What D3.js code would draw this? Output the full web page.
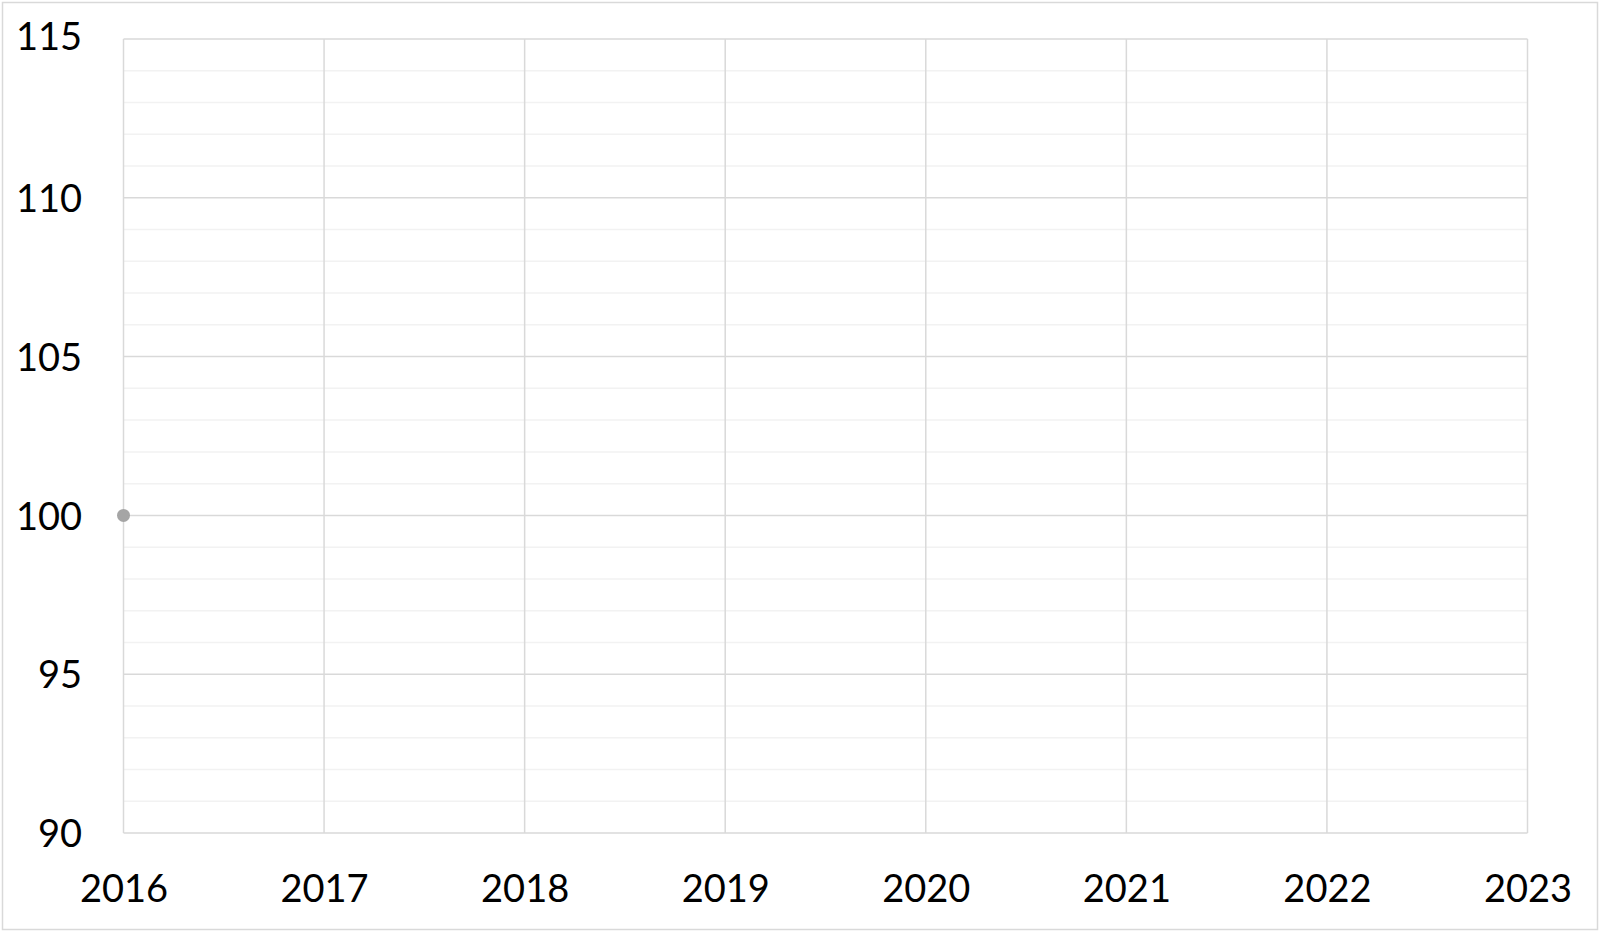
<!DOCTYPE html>
<html><head><meta charset="utf-8">
<script src="https://cdn.jsdelivr.net/npm/d3@7"></script>
<style>html,body{margin:0;padding:0;background:#fff;} svg{display:block;}</style>
</head><body>
<svg id="chart" width="1600" height="934"></svg>
<script>
const years = [2016, 2017, 2018, 2019, 2020, 2021, 2022, 2023];
const seriesValues = [100, null, null, null, null, null, null, null];
const yMajorTicks = [90, 95, 100, 105, 110, 115];
const yMinorTicks = d3.range(90, 116, 1);

const svg = d3.select("#chart");
const m = {left: 123.5, right: 1527.5, top: 39, bottom: 833};
const font = "Lato, 'Open Sans', sans-serif";

svg.append("rect").attr("x", 2.5).attr("y", 2.5).attr("width", 1595).attr("height", 927)
  .attr("fill", "#fff").attr("stroke", "#d9d9d9").attr("stroke-width", 1.5);

const x = d3.scaleLinear().domain([years[0], years[years.length-1]]).range([m.left, m.right]);
const y = d3.scaleLinear().domain([90, 115]).range([m.bottom, m.top]);

// minor gridlines
svg.append("g").selectAll("line").data(yMinorTicks.filter(v => v % 5 !== 0)).join("line")
  .attr("x1", m.left).attr("x2", m.right).attr("y1", d => y(d)).attr("y2", d => y(d))
  .attr("stroke", "#f2f2f2").attr("stroke-width", 1.5);

// major horizontal gridlines
svg.append("g").selectAll("line").data(yMajorTicks).join("line")
  .attr("x1", m.left).attr("x2", m.right).attr("y1", d => y(d)).attr("y2", d => y(d))
  .attr("stroke", "#d9d9d9").attr("stroke-width", 1.5);

// vertical gridlines
svg.append("g").selectAll("line").data(years).join("line")
  .attr("x1", d => x(d)).attr("x2", d => x(d)).attr("y1", m.top).attr("y2", m.bottom)
  .attr("stroke", "#d9d9d9").attr("stroke-width", 1.5);

// y axis labels
const yAxis = d3.axisLeft(y).tickValues(yMajorTicks).tickSize(0).tickPadding(0).tickFormat(d3.format("d"));
const gy = svg.append("g").attr("transform", `translate(82,0)`).call(yAxis);
gy.select(".domain").remove();
gy.selectAll("text").attr("font-family", font).attr("font-size", 38).attr("fill", "#000")
  .attr("dy", d => d === 115 ? "0.28em" : "0.36em");

// x axis labels
const xAxis = d3.axisBottom(x).tickValues(years).tickSize(0).tickPadding(0).tickFormat(d3.format("d"));
const gx = svg.append("g").attr("transform", `translate(0,875)`).call(xAxis);
gx.select(".domain").remove();
gx.selectAll("text").attr("font-family", font).attr("font-size", 38).attr("fill", "#000")
  .attr("dy", "0.72em");

// series
const line = d3.line().defined(d => d.v != null).x(d => x(d.yr)).y(d => y(d.v));
const seriesData = years.map((yr, i) => ({yr, v: seriesValues[i]}));
svg.append("path").datum(seriesData)
  .attr("d", line).attr("fill", "none").attr("stroke", "#a5a5a5").attr("stroke-width", 3);
svg.append("g").selectAll("circle").data(seriesData.filter(d => d.v != null)).join("circle")
  .attr("cx", d => x(d.yr)).attr("cy", d => y(d.v)).attr("r", 6.5).attr("fill", "#a5a5a5");
</script>
</body></html>
